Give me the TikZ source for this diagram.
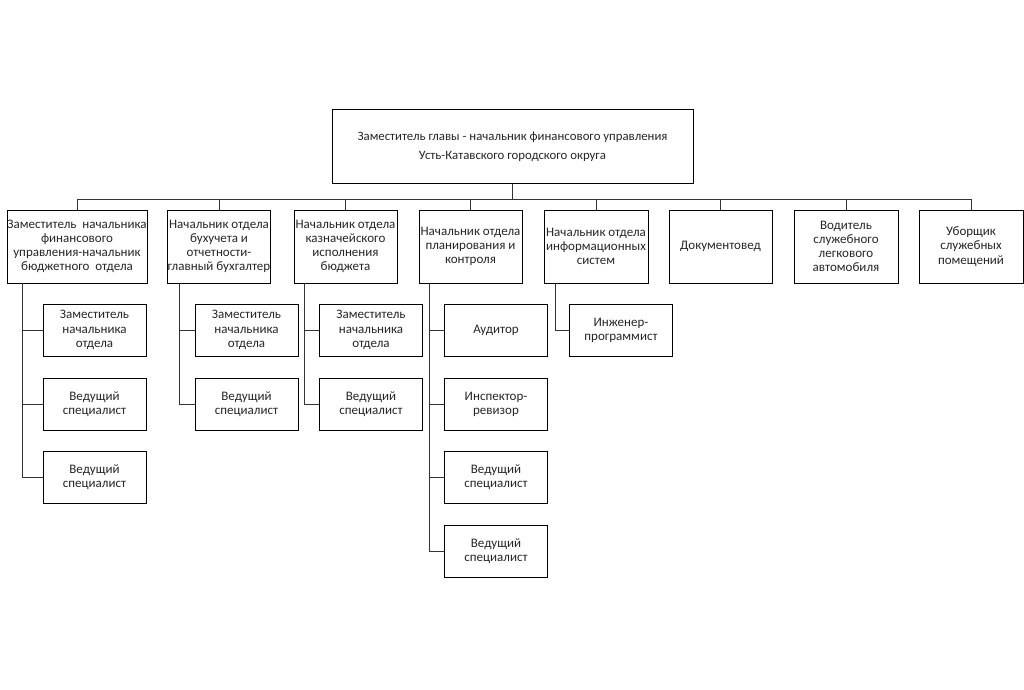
\documentclass[tikz,border=0pt]{standalone}
\usepackage{fontspec}
\setmainfont{Carlito}
\begin{document}
\begin{tikzpicture}[x=1pt,y=-1pt,
  box/.style={draw=black, line width=0.9pt, inner sep=0pt, align=center, text=black!85,
    font=\fontsize{13}{14.2}\selectfont},
  mainbox/.style={box, minimum width=361pt, minimum height=74pt, font=\fontsize{12.8}{18.5}\selectfont},
  rowbox/.style={box, minimum height=73pt},
  subbox/.style={box, minimum width=103pt, minimum height=52pt},
  conn/.style={draw=black!80, line width=1pt}]
\useasboundingbox (0,0) rectangle (1024,689);

\node[mainbox] (top) at (512.5,146.5) {Заместитель главы - начальник финансового управления\\Усть-Катавского городского округа};

\node[rowbox, minimum width=140pt] (b1) at (77,246.5) {Заместитель\ \ начальника\\финансового\\управления-начальник\\бюджетного\ \ отдела};
\node[rowbox, minimum width=100pt] (b2) at (219,246.5) {Начальник отдела\\бухучета и\\отчетности-\\главный бухгалтер};
\node[rowbox, minimum width=103pt] (b3) at (345.5,246.5) {Начальник отдела\\казначейского\\исполнения\\бюджета};
\node[rowbox, minimum width=103pt] (b4) at (470.5,246.5) {Начальник отдела\\планирования и\\контроля};
\node[rowbox, minimum width=104pt] (b5) at (596,246.5) {Начальник отдела\\информационных\\систем};
\node[rowbox, minimum width=103pt] (b6) at (720.5,246.5) {Документовед};
\node[rowbox, minimum width=104pt] (b7) at (846,246.5) {Водитель\\служебного\\легкового\\автомобиля};
\node[rowbox, minimum width=104pt] (b8) at (971,246.5) {Уборщик\\служебных\\помещений};

\node[subbox] (s11) at (94.5,330) {Заместитель\\начальника\\отдела};
\node[subbox] (s12) at (94.5,404) {Ведущий\\специалист};
\node[subbox] (s13) at (94.5,477) {Ведущий\\специалист};

\node[subbox] (s21) at (246.5,330) {Заместитель\\начальника\\отдела};
\node[subbox] (s22) at (246.5,404) {Ведущий\\специалист};

\node[subbox] (s31) at (371,330) {Заместитель\\начальника\\отдела};
\node[subbox] (s32) at (371,404) {Ведущий\\специалист};

\node[subbox] (s41) at (496,330) {Аудитор};
\node[subbox] (s42) at (496,404) {Инспектор-\\ревизор};
\node[subbox] (s43) at (496,477) {Ведущий\\специалист};
\node[subbox] (s44) at (496,551) {Ведущий\\специалист};

\node[subbox] (s51) at (621,330) {Инженер-\\программист};

\coordinate (bus) at (512.5,199);
\draw[conn] (top.south) -- (bus);
\draw[conn] (b1.north) -- (b1.north |- bus) -- (b8.north |- bus) -- (b8.north);
\foreach \n in {b2,b3,b4,b5,b6,b7} {\draw[conn] (\n.north) -- (\n.north |- bus);}

\coordinate (v1) at (22,283);
\coordinate (v2) at (179,283);
\coordinate (v3) at (304,283);
\coordinate (v4) at (429,283);
\coordinate (v5) at (555,283);
\foreach \s in {s11,s12,s13} {\draw[conn] (v1) |- (\s.west);}
\foreach \s in {s21,s22} {\draw[conn] (v2) |- (\s.west);}
\foreach \s in {s31,s32} {\draw[conn] (v3) |- (\s.west);}
\foreach \s in {s41,s42,s43,s44} {\draw[conn] (v4) |- (\s.west);}
\draw[conn] (v5) |- (s51.west);
\end{tikzpicture}
\end{document}
